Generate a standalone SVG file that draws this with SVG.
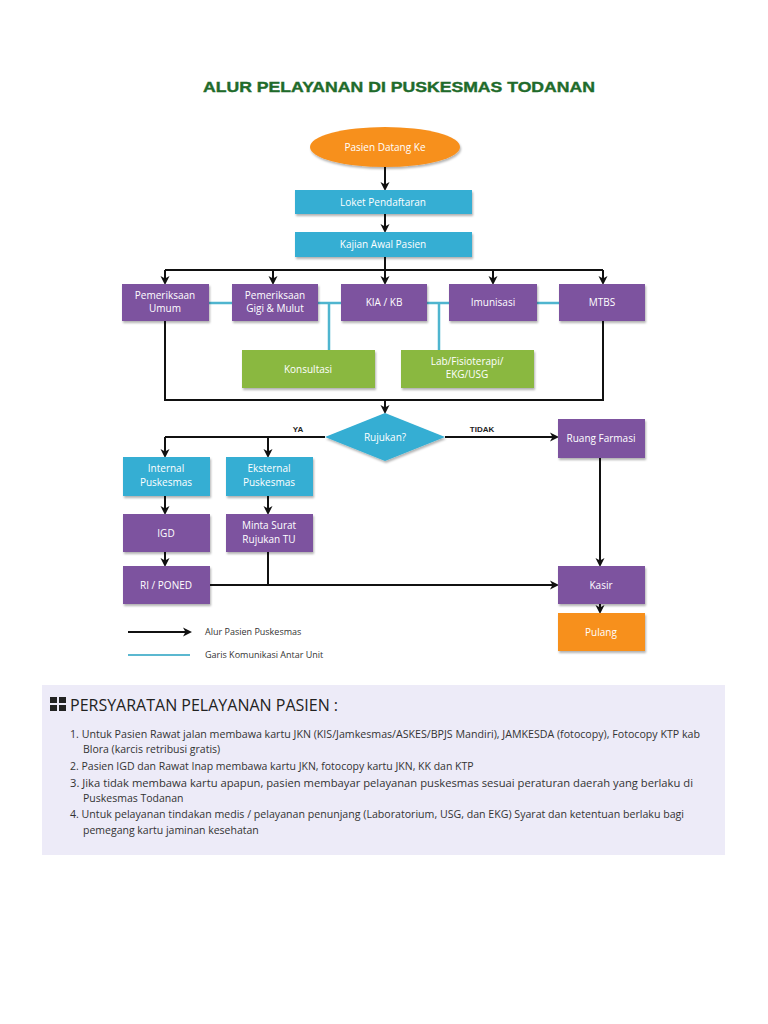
<svg xmlns="http://www.w3.org/2000/svg" width="768" height="1024" viewBox="0 0 768 1024">
<defs>
<style>
.t{font-family:"Open Sans","Liberation Sans",sans-serif;font-size:10px;fill:#fff;text-anchor:middle}
.p{fill:#7D539F;filter:url(#sh)}
.c{fill:#35AED3;filter:url(#sh)}
.g{fill:#8AB83F;filter:url(#sh)}
.o{fill:#F7901E;filter:url(#sh)}
.ln{stroke:#111;stroke-width:2;fill:none}
.ar{stroke:#111;stroke-width:2;fill:none;marker-end:url(#ah)}
.cy{stroke:#4FB5CF;stroke-width:2.5;fill:none}
.li{font-family:"Open Sans","Liberation Sans",sans-serif;font-size:10.5px;fill:#333}
.lg{font-family:"Open Sans","Liberation Sans",sans-serif;font-size:9px;fill:#333}
</style>
<marker id="ah" markerWidth="10" markerHeight="10" refX="7" refY="5" orient="auto" markerUnits="userSpaceOnUse">
<path d="M0,0.5 L9,5 L0,9.5 L2.5,5 Z" fill="#111"/>
</marker>
<filter id="sh" x="-10%" y="-10%" width="130%" height="140%">
<feDropShadow dx="1" dy="2" stdDeviation="1.2" flood-color="#000" flood-opacity="0.3"/>
</filter>
</defs>
<rect width="768" height="1024" fill="#fff"/>
<text x="399" y="92" font-family="Liberation Sans,Arial,sans-serif" font-weight="bold" font-size="15.5" fill="#1F6B2B" stroke="#1F6B2B" stroke-width="0.4" text-anchor="middle" textLength="392" lengthAdjust="spacingAndGlyphs">ALUR PELAYANAN DI PUSKESMAS TODANAN</text>

<g id="connectors">
<line class="ar" x1="385" y1="167" x2="385" y2="189"/>
<line class="ar" x1="385" y1="214" x2="385" y2="231"/>
<line class="ln" x1="385" y1="257" x2="385" y2="270"/>
<line class="ln" x1="165" y1="270" x2="603" y2="270"/>
<line class="ar" x1="165" y1="270" x2="165" y2="283"/>
<line class="ar" x1="273" y1="270" x2="273" y2="283"/>
<line class="ar" x1="385" y1="257" x2="385" y2="283"/>
<line class="ar" x1="493" y1="270" x2="493" y2="283"/>
<line class="ar" x1="603" y1="270" x2="603" y2="283"/>
<line class="cy" x1="209" y1="303" x2="232" y2="303"/>
<line class="cy" x1="318" y1="303" x2="341" y2="303"/>
<line class="cy" x1="427" y1="303" x2="449" y2="303"/>
<line class="cy" x1="537" y1="303" x2="559" y2="303"/>
<line class="cy" x1="329" y1="303" x2="329" y2="350"/>
<line class="cy" x1="439" y1="303" x2="439" y2="350"/>
<polyline class="ln" points="165,321 165,400 603,400 603,321"/>
<line class="ar" x1="385" y1="400" x2="385" y2="412"/>
<polyline class="ln" points="325,437 165,437"/>
<line class="ar" x1="165" y1="437" x2="165" y2="456"/>
<line class="ar" x1="268" y1="437" x2="268" y2="456"/>
<line class="ar" x1="445" y1="437" x2="557" y2="437"/>
<line class="ar" x1="165" y1="496" x2="165" y2="513"/>
<line class="ar" x1="268" y1="496" x2="268" y2="513"/>
<line class="ar" x1="165" y1="552" x2="165" y2="565"/>
<line class="ar" x1="210" y1="585" x2="557" y2="585"/>
<line class="ln" x1="268" y1="552" x2="268" y2="585"/>
<line class="ar" x1="600" y1="458" x2="600" y2="565"/>
<line class="ar" x1="600" y1="604" x2="600" y2="612"/>
</g>

<g id="n-pasien"><ellipse cx="385" cy="147" rx="75" ry="20" class="o"/><text class="t" x="385" y="151">Pasien Datang Ke</text></g>
<g id="n-loket"><rect x="295" y="190" width="177" height="24" class="c"/><text class="t" x="383" y="206">Loket Pendaftaran</text></g>
<g id="n-kajian"><rect x="295" y="232" width="177" height="25" class="c"/><text class="t" x="383" y="248">Kajian Awal Pasien</text></g>

<g id="n-umum"><rect x="122" y="284" width="87" height="37" class="p"/><text class="t" x="165" y="299">Pemeriksaan</text><text class="t" x="165" y="312">Umum</text></g>
<g id="n-gigi"><rect x="232" y="284" width="86" height="37" class="p"/><text class="t" x="275" y="299">Pemeriksaan</text><text class="t" x="275" y="312">Gigi &amp; Mulut</text></g>
<g id="n-kia"><rect x="341" y="284" width="86" height="37" class="p"/><text class="t" x="384" y="306">KIA / KB</text></g>
<g id="n-imun"><rect x="449" y="284" width="88" height="37" class="p"/><text class="t" x="493" y="306">Imunisasi</text></g>
<g id="n-mtbs"><rect x="559" y="284" width="86" height="37" class="p"/><text class="t" x="602" y="306">MTBS</text></g>

<g id="n-konsul"><rect x="242" y="350" width="133" height="38" class="g"/><text class="t" x="308" y="373">Konsultasi</text></g>
<g id="n-lab"><rect x="401" y="350" width="133" height="38" class="g"/><text class="t" x="467" y="365">Lab/Fisioterapi/</text><text class="t" x="467" y="378">EKG/USG</text></g>

<g id="n-rujukan"><polygon points="385,413 445,437 385,461 325,437" class="c"/><text class="t" x="385" y="441">Rujukan?</text></g>
<text x="298" y="432" font-family="Liberation Sans,Arial,sans-serif" font-weight="bold" font-size="8" fill="#222" text-anchor="middle">YA</text>
<text x="482" y="432" font-family="Liberation Sans,Arial,sans-serif" font-weight="bold" font-size="8" fill="#222" text-anchor="middle">TIDAK</text>

<g id="n-farmasi"><rect x="558" y="419" width="87" height="39" class="p"/><text class="t" x="601" y="442">Ruang Farmasi</text></g>
<g id="n-internal"><rect x="123" y="457" width="87" height="39" class="c"/><text class="t" x="166" y="472">Internal</text><text class="t" x="166" y="486">Puskesmas</text></g>
<g id="n-eksternal"><rect x="226" y="457" width="87" height="39" class="c"/><text class="t" x="269" y="472">Eksternal</text><text class="t" x="269" y="486">Puskesmas</text></g>
<g id="n-igd"><rect x="123" y="514" width="87" height="38" class="p"/><text class="t" x="166" y="537">IGD</text></g>
<g id="n-minta"><rect x="226" y="514" width="87" height="38" class="p"/><text class="t" x="269" y="529">Minta Surat</text><text class="t" x="269" y="543">Rujukan TU</text></g>
<g id="n-ri"><rect x="123" y="566" width="87" height="38" class="p"/><text class="t" x="166" y="589">RI / PONED</text></g>
<g id="n-kasir"><rect x="558" y="566" width="87" height="38" class="p"/><text class="t" x="601" y="589">Kasir</text></g>
<g id="n-pulang"><rect x="558" y="613" width="87" height="38" class="o"/><text class="t" x="601" y="636">Pulang</text></g>

<g id="legend">
<line class="ar" x1="128" y1="632" x2="190" y2="632"/>
<text class="lg" x="205" y="635">Alur Pasien Puskesmas</text>
<line stroke="#5BB8D0" stroke-width="2" x1="128" y1="655" x2="190" y2="655"/>
<text class="lg" x="205" y="658">Garis Komunikasi Antar Unit</text>
</g>

<g id="panel">
<rect x="42" y="685" width="683" height="170" fill="#EDEBF8"/>
<rect x="50" y="697" width="7" height="6" fill="#222"/>
<rect x="59" y="697" width="7" height="6" fill="#222"/>
<rect x="50" y="705" width="7" height="6" fill="#222"/>
<rect x="59" y="705" width="7" height="6" fill="#222"/>
<text x="70" y="711" font-family="Open Sans,Liberation Sans,sans-serif" font-size="16" fill="#222">PERSYARATAN PELAYANAN PASIEN :</text>
<text class="li" x="70" y="738" textLength="630" lengthAdjust="spacingAndGlyphs">1. Untuk Pasien Rawat jalan membawa kartu JKN (KIS/Jamkesmas/ASKES/BPJS Mandiri), JAMKESDA (fotocopy), Fotocopy KTP kab</text>
<text class="li" x="83" y="753">Blora (karcis retribusi gratis)</text>
<text class="li" x="70" y="770">2. Pasien IGD dan Rawat Inap membawa kartu JKN, fotocopy kartu JKN, KK dan KTP</text>
<text class="li" x="70" y="787" textLength="623" lengthAdjust="spacingAndGlyphs">3. Jika tidak membawa kartu apapun, pasien membayar pelayanan puskesmas sesuai peraturan daerah yang berlaku di</text>
<text class="li" x="83" y="802">Puskesmas Todanan</text>
<text class="li" x="70" y="818" textLength="614" lengthAdjust="spacingAndGlyphs">4. Untuk pelayanan tindakan medis / pelayanan penunjang (Laboratorium, USG, dan EKG) Syarat dan ketentuan berlaku bagi</text>
<text class="li" x="83" y="834">pemegang kartu jaminan kesehatan</text>
</g>
</svg>
